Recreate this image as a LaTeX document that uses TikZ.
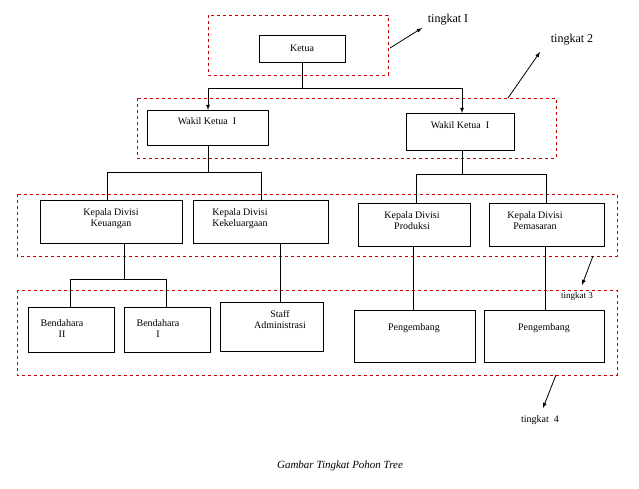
\documentclass[tikz,border=0pt]{standalone}
\usepackage{fontspec}
\setmainfont{Liberation Serif}
\begin{document}
\begin{tikzpicture}[x=1pt,y=-1pt,
 box/.style={draw,thick},
 tier/.style={draw=red!80!black,dashed},
 lbl/.style={font=\fontsize{10}{11}\selectfont,align=center},
 ln/.style={thick},
 arr/.style={thick,-latex}]
\useasboundingbox (0,0) rectangle (639,488);
% tiers
\draw[tier] (208,15) rectangle (388,75);
\draw[tier] (137,98) rectangle (556,158);
\draw[tier] (17,194) rectangle (617,256);
\draw[tier] (17,290) rectangle (617,375);
% boxes
\draw[box] (259,35) rectangle (345,62); \node[lbl] (k) at (302,48) {Ketua};
\draw[box] (147,110) rectangle (268,145); \node[lbl,anchor=north] (w1) at (207,114) {Wakil Ketua\ \ I};
\draw[box] (406,113) rectangle (514,150); \node[lbl,anchor=north] (w2) at (460,118) {Wakil Ketua\ \ I};
\draw[box] (40,200) rectangle (182,243); \node[lbl,anchor=north] at (111,205) {Kepala Divisi\\Keuangan};
\draw[box] (193,200) rectangle (328,243); \node[lbl,anchor=north] at (240,205) {Kepala Divisi\\Kekeluargaan};
\draw[box] (358,203) rectangle (470,246); \node[lbl,anchor=north] at (412,208) {Kepala Divisi\\Produksi};
\draw[box] (489,203) rectangle (604,246); \node[lbl,anchor=north] at (535,208) {Kepala Divisi\\Pemasaran};
\draw[box] (28,307) rectangle (114,352); \node[lbl,anchor=north] at (62,316) {Bendahara\\II};
\draw[box] (124,307) rectangle (210,352); \node[lbl,anchor=north] at (158,316) {Bendahara\\I};
\draw[box] (220,302) rectangle (323,351); \node[lbl,anchor=north] at (280,307) {Staff\\Administrasi};
\draw[box] (354,310) rectangle (475,362); \node[lbl,anchor=north] at (414,320) {Pengembang};
\draw[box] (484,310) rectangle (604,362); \node[lbl,anchor=north] at (544,320) {Pengembang};
% connectors
\coordinate (kb) at (302,62); \coordinate (w1t) at (208,110); \coordinate (w2t) at (462,113);
\draw[ln] (kb) -- (302,88);
\draw[arr] (208,88) -- (w1t);
\draw[arr] (462,88) -- (w2t);
\draw[ln] (208,88) -- (462,88);
\draw[ln] (208,145) -- (208,172); \draw[ln] (107,200) |- (261,172) -- (261,200);
\draw[ln] (462,150) -- (462,174); \draw[ln] (416,203) |- (546,174) -- (546,203);
\draw[ln] (124,243) -- (124,279); \draw[ln] (70,307) |- (166,279) -- (166,307);
\draw[ln] (280,243) -- (280,302);
\draw[ln] (413,246) -- (413,310);
\draw[ln] (545,246) -- (545,310);
% tier labels
\node[font=\fontsize{12}{13}\selectfont] (t1) at (448,20) {tingkat I};
\node[font=\fontsize{12}{13}\selectfont] (t2) at (572,40) {tingkat 2};
\node[font=\fontsize{9}{10}\selectfont] (t3) at (577,296) {tingkat 3};
\node[lbl] (t4) at (540,420) {tingkat\ \ 4};
\draw[arr] (390,48) -- (422,28);
\draw[arr] (508,98) -- (540,52);
\draw[arr] (593,256) -- (582,285);
\draw[arr] (556,375) -- (543,408);
\node[lbl,font=\fontsize{11}{12}\selectfont\itshape] (cap) at (340,466) {Gambar Tingkat Pohon Tree};
\end{tikzpicture}
\end{document}
